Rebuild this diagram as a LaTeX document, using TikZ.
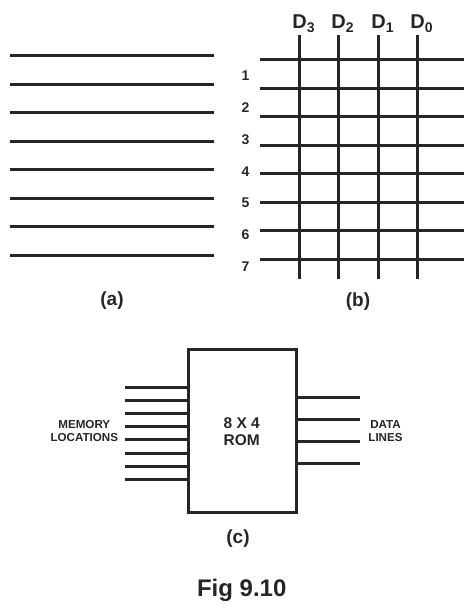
\documentclass[tikz,border=0pt]{standalone}
\usepackage{fontspec}
\setmainfont{Liberation Sans}
\definecolor{ink}{HTML}{262626}
\begin{document}
\begin{tikzpicture}[x=1pt,y=-1pt,
  wire/.style={draw=ink,line width=2.6pt},
  lbl/.style={text=ink,font=\bfseries\fontsize{19}{19}\selectfont,inner sep=0pt},
  rowlbl/.style={text=ink,font=\bfseries\fontsize{14}{14}\selectfont,inner sep=0pt},
  dlbl/.style={text=ink,font=\bfseries\fontsize{20}{20}\selectfont,inner sep=0pt,anchor=base west},
  small/.style={text=ink,font=\bfseries\fontsize{11.6}{12.2}\selectfont,inner sep=0pt,align=center},
  romtxt/.style={text=ink,font=\bfseries\fontsize{15.5}{17}\selectfont,inner sep=0pt,align=center}]
\useasboundingbox[fill=white] (0,0) rectangle (474,611);
% (a)
\foreach \i in {0,...,7}{
  \pgfmathsetmacro\yy{round(55+\i*28.57)+0.5}
  \coordinate (aL\i) at (10,\yy);
  \coordinate (aR\i) at (214,\yy);
  \draw[wire] (aL\i) -- (aR\i);
}
\node[lbl] (la) at (112,301) {(a)};
% (b)
\foreach \i in {0,...,7}{
  \pgfmathsetmacro\yy{round(59.3+\i*28.53)+0.5}
  \coordinate (bL\i) at (260,\yy);
  \coordinate (bR\i) at (464,\yy);
  \draw[wire] (bL\i) -- (bR\i);
}
\foreach \x/\d in {299.5/3,338.5/2,378.5/1,417.5/0}{
  \coordinate (dT\d) at (\x,35);
  \coordinate (dB\d) at (\x,279);
  \draw[wire] (dT\d) -- (dB\d);
  \node[dlbl] (D\d) at (\x-7.3,28) {D\raisebox{-4pt}{\fontsize{14}{14}\selectfont\d}};
}
\foreach \i in {1,...,7}{
  \node[rowlbl] (r\i) at (245.5,{76+(\i-1)*31.8}) {\i};
}
\node[lbl] (lb) at (358,302) {(b)};
% (c)
\node[draw=ink,line width=3pt,minimum width=108pt,minimum height=163pt,inner sep=0pt] (rom) at (242,431) {};
\node[romtxt] (romt) at (241.7,431.5) {8 X 4\\ROM};
\foreach \i in {0,...,7}{
  \pgfmathsetmacro\yy{round(386.7+\i*13.19)+0.5}
  \coordinate (mL\i) at (125,\yy);
  \draw[wire] (mL\i) -- (rom.west |- mL\i);
}
\foreach \i in {0,...,3}{
  \pgfmathsetmacro\yy{round(397.3+\i*22)+0.5}
  \coordinate (dR\i) at (360,\yy);
  \draw[wire] (rom.east |- dR\i) -- (dR\i);
}
\node[small] (mem) at (84.3,431) {MEMORY\\LOCATIONS};
\node[small] (dat) at (385.5,431) {DATA\\LINES};
\node[lbl] (lc) at (238,539) {(c)};
\node[text=ink,font=\bfseries\fontsize{24}{24}\selectfont,inner sep=0pt] (fig) at (241.7,590.5) {Fig 9.10};
\end{tikzpicture}
\end{document}
